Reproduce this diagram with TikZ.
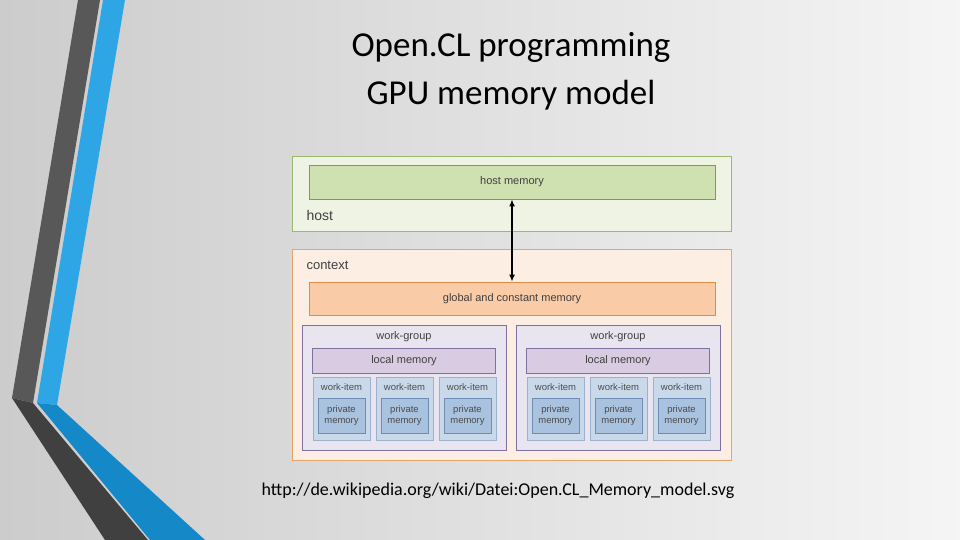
\documentclass[tikz,border=0pt]{standalone}
\usepackage{fontspec}
\setmainfont{Carlito}
\setsansfont{Liberation Sans}
\usetikzlibrary{arrows.meta}
\definecolor{hostf}{HTML}{EEF3E3}\definecolor{hostd}{HTML}{9AB870}
\definecolor{hmf}{HTML}{CFE0B1}\definecolor{hmd}{HTML}{7D9B55}
\definecolor{ctxf}{HTML}{FCEEE2}\definecolor{ctxd}{HTML}{E3A56A}
\definecolor{gmf}{HTML}{F9CBA6}\definecolor{gmd}{HTML}{DE8E45}
\definecolor{wgf}{HTML}{E8E5F0}\definecolor{wgd}{HTML}{7E70A0}
\definecolor{lmf}{HTML}{D8CBE2}
\definecolor{wif}{HTML}{C9D9EA}\definecolor{wid}{HTML}{9CB2CC}
\definecolor{pmf}{HTML}{A9C2DF}\definecolor{pmd}{HTML}{6E8DB5}
\definecolor{gband}{HTML}{585858}\definecolor{gband2}{HTML}{404040}
\definecolor{bband}{HTML}{2EA6E6}\definecolor{bband2}{HTML}{1589C8}
\begin{document}
\begin{tikzpicture}[x=1pt,y=-1pt,
  box/.style={draw=#1,line width=0.8pt},
  lbl/.style={font=\sffamily\fontsize{11}{12}\selectfont,text=black!75},
  sml/.style={font=\sffamily\fontsize{9.5}{10.5}\selectfont,text=black!70,align=center}]
\shade[left color=black!20,right color=black!4] (0,0) rectangle (960,540);
\useasboundingbox (0,0) rectangle (960,540);
% bands
\fill[gband] (78,0) -- (100,0) -- (33,403) -- (12,398) -- cycle;
\fill[gband2] (12,398) -- (33,403) -- (148,540) -- (105,540) -- cycle;
\fill[bband] (103,0) -- (125,0) -- (57,405) -- (37,403) -- cycle;
\fill[bband2] (37,403) -- (57,405) -- (205,540) -- (150,540) -- cycle;
% title
\node (t1) at (511,47) {\fontsize{35}{38}\selectfont Open.CL programming};
\node (t2) at (511,95) {\fontsize{35}{38}\selectfont GPU memory model};
\node (url) at (498,491) {\fontsize{18}{20}\selectfont http://de.wikipedia.org/wiki/Datei:Open.CL\_Memory\_model.svg};
% host
\filldraw[box=hostd,fill=hostf] (292,156) rectangle (731,231);
\node[box=hmd,fill=hmf,minimum width=406pt,minimum height=34pt,lbl] (hm) at (512,182) {host memory};
\node[lbl,anchor=west,font=\sffamily\fontsize{14}{15}\selectfont] (host) at (303,215) {host};
% context
\filldraw[box=ctxd,fill=ctxf] (292,249) rectangle (731,460);
\node[lbl,anchor=west,font=\sffamily\fontsize{13}{14}\selectfont] (ctx) at (303,265) {context};
\node[box=gmd,fill=gmf,minimum width=406pt,minimum height=33pt,lbl] (gm) at (512,298.5) {global and constant memory};
\draw[line width=1.6pt,{Latex[length=7pt,width=6pt]}-{Latex[length=7pt,width=6pt]}] (hm.south) -- (gm.north);
\foreach \x/\n in {302/a,516/b}{
  \filldraw[box=wgd,fill=wgf] (\x,325) rectangle ++(204,125);
  \node[lbl] (wg\n) at (\x+102,337) {work-group};
  \node[box=wgd,fill=lmf,minimum width=183pt,minimum height=25pt,lbl] (lm\n) at (\x+102,360.5) {local memory};
  \foreach \i in {0,1,2}{
    \filldraw[draw=wid,line width=0.6pt,fill=wif] (\x+11+\i*63,377) rectangle ++(57,63);
    \node[sml] (wi\n\i) at (\x+39.5+\i*63,387) {work-item};
    \node[draw=pmd,line width=0.6pt,fill=pmf,minimum width=47pt,minimum height=35pt,inner sep=1pt,sml] (pm\n\i) at (\x+39.5+\i*63,415.5) {private\\memory};
  }
}
\end{tikzpicture}
\end{document}
